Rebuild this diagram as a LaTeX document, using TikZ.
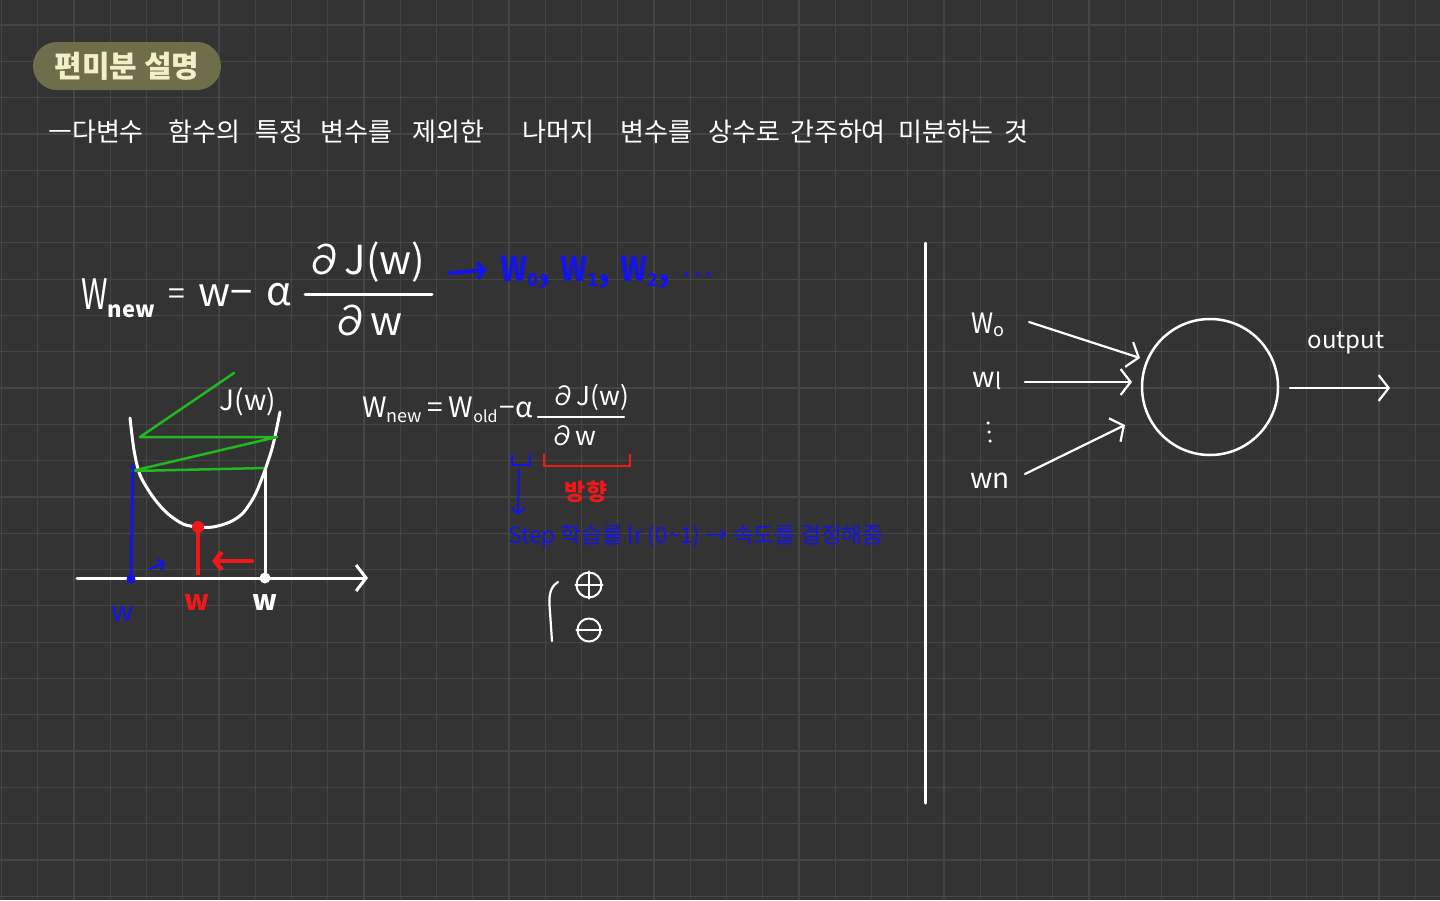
\documentclass[tikz,border=0pt]{standalone}
\usepackage{fontspec}
\setmainfont{Noto Sans CJK KR}
\usetikzlibrary{arrows.meta}
\definecolor{bg}{HTML}{333333}
\definecolor{gridc}{HTML}{454545}
\definecolor{pill}{HTML}{6E6E4A}
\definecolor{cream}{HTML}{F3F0C8}
\definecolor{penblue}{HTML}{1414E8}
\definecolor{penred}{HTML}{F01818}
\definecolor{pengreen}{HTML}{22B822}
\newcommand{\fsz}[1]{\fontsize{#1}{#1}\selectfont}
\newcommand{\nW}[1][0.72]{\scalebox{#1}[1]{W}}
\tikzset{
  wline/.style={draw=white, line width=3pt, line cap=round, line join=round},
  thin/.style={draw=white, line width=2.2pt, line cap=round, line join=round},
  barb/.style={-{Straight Barb[length=10pt,width=26pt]}},
  wtxt/.style={text=white, inner sep=0pt},
  kword/.style={text=white, inner sep=0pt, anchor=west, font=\fsz{26}},
  dot/.style={circle, inner sep=0pt},
}
\begin{document}
\begin{tikzpicture}[x=1pt,y=-1pt]
\fill[bg] (0,0) rectangle (1440,900);
\useasboundingbox (0,0) rectangle (1440,900);
% grid
\foreach \i in {0,...,39} \draw[gridc, line width=1.2pt] ({1.5+36.25*\i},0) -- ++(0,900);
\foreach \j in {0,...,24} \draw[gridc, line width=1.2pt] (0,{25+36.3*\j}) -- ++(1440,0);

% title
\node[fill=pill, rounded corners=24pt, minimum width=188pt, minimum height=48pt, inner sep=0pt,
      text=cream, font=\fsz{30}\bfseries] (title) at (127,66) {편미분 설명};

% definition line
\foreach \x/\w [count=\k] in {48/ㅡ다변수, 168/함수의, 255/특정, 320/변수를, 412/제외한, 522/나머지,
   620/변수를, 708/상수로, 790/간주하여, 898/미분하는, 1004/것}
   \node[kword] (word\k) at (\x,132) {\w};

% big formula
\node[wtxt, anchor=west, font=\fsz{42}] (wnew) at (81,298) {\nW\raisebox{-8pt}{\fsz{22}\bfseries new}};
\node[wtxt, font=\fsz{30}] (eq1) at (177,297) {=};
\node[wtxt, font=\fsz{40}] (wminus) at (226,296) {w−};
\node[wtxt, font=\fsz{40}] (alpha1) at (279,295) {α};
\node[wtxt, font=\fsz{40}] (num1) at (365,262) {∂J(w)};
\node[wtxt, font=\fsz{40}] (den1) at (367,320) {∂w};
\coordinate (frac1a) at (305,294);
\coordinate (frac1b) at (432,294);
\draw[wline] (frac1a) -- (frac1b);

% blue list
\coordinate (ba) at (450,273);
\coordinate (bb) at (487,270);
\draw[draw=penblue, line width=4pt, line cap=round, -{Straight Barb[length=7pt,width=16pt]}] (ba) -- (bb);
\node[inner sep=0pt, anchor=west, text=penblue, font=\fsz{34}\bfseries] (wlist) at (500,273)
   {\nW[0.85]\raisebox{-5pt}{\fsz{18}0},\hspace{10pt}\nW[0.85]\raisebox{-5pt}{\fsz{18}1},\hspace{10pt}\nW[0.85]\raisebox{-5pt}{\fsz{18}2},\hspace{12pt}{\fsz{18}···}};

% parabola graph
\coordinate (ax0) at (77,578);
\coordinate (ax1) at (368,578);
\draw[wline, barb] (ax0) -- (ax1);
\draw[wline, smooth] plot coordinates {(130,418) (134,450) (140,475) (153,497) (167,513) (183,524) (198,527)
   (213,527) (230,522) (243,513) (255,495) (265,470) (273,445) (280,412)};
\coordinate (g1) at (234,373);
\coordinate (g2) at (140,437);
\coordinate (g3) at (277,437);
\coordinate (g4) at (132,471);
\coordinate (g5) at (265,468);
\draw[draw=pengreen, line width=2.5pt, line cap=round, line join=round] (g1) -- (g2) -- (g3) -- (g4) -- (g5);
% blue
\coordinate (bl0) at (133,465);
\node[dot, fill=penblue, minimum size=9pt] (bdot) at (131,579) {};
\draw[draw=penblue, line width=3pt, line cap=round] (bl0) -- (bdot.center);
\coordinate (sa0) at (150,569);
\coordinate (sa1) at (165,562);
\draw[draw=penblue, line width=2.5pt, line cap=round, -{Straight Barb[length=5pt,width=12pt]}] (sa0) -- (sa1);
\node[inner sep=0pt, text=penblue, font=\fsz{28}] (wb) at (123,614) {w};
% red
\node[dot, fill=penred, minimum size=12pt] (rdot) at (198,527) {};
\coordinate (rb) at (198,575);
\draw[draw=penred, line width=4.5pt] (rdot.center) -- (rb);
\coordinate (ra0) at (252,561);
\coordinate (ra1) at (212,561);
\draw[draw=penred, line width=4.5pt, line cap=round, -{Straight Barb[length=7pt,width=18pt]}] (ra0) -- (ra1);
\node[inner sep=0pt, text=penred, font=\fsz{28}\bfseries] (wr) at (197,603) {w};
% white
\coordinate (wt) at (265,468);
\node[dot, fill=white, minimum size=11pt] (wdot) at (265,578) {};
\draw[wline] (wt) -- (wdot.center);
\node[wtxt, font=\fsz{28}\bfseries] (ww) at (265,603) {w};
\node[wtxt, font=\fsz{28}] (jw) at (248,402) {J(w)};

% middle formula
\node[wtxt, anchor=west, font=\fsz{28}] (f2) at (362,410)
   {W\raisebox{-5pt}{\fsz{18}new}\hspace{5pt}=\hspace{6pt}W\raisebox{-5pt}{\fsz{16}old}\hspace{2pt}−α};
\node[wtxt, font=\fsz{26}] (num2) at (590,397) {∂J(w)};
\node[wtxt, font=\fsz{26}] (den2) at (573,436) {∂w};
\coordinate (frac2a) at (538,417);
\coordinate (frac2b) at (624,417);
\draw[thin] (frac2a) -- (frac2b);
% brackets
\draw[draw=penblue, line width=2pt] (512,454) -- (512,465) -- (530,465) -- (530,454);
\draw[draw=penred, line width=2pt] (544,454) -- (544,466) -- (630,466) -- (630,454);
\coordinate (da0) at (519,470);
\coordinate (da1) at (518,515);
\draw[draw=penblue, line width=2pt, line cap=round, -{Straight Barb[length=6pt,width=14pt]}] (da0) -- (da1);
\node[inner sep=0pt, text=penred, font=\fsz{23}\bfseries] (dir) at (586,492) {방향};
\node[inner sep=0pt, anchor=west, text=penblue, font=\fsz{22.5}] (stepline) at (508,537)
   {Step 학습률 lr (0\textasciitilde 1) → 속도를 결정해줌};
% brace and signs
\draw[thin] (558,582) .. controls (548,588) and (549,600) .. (550,612) -- (552,641);
\node[draw=white, line width=2pt, circle, minimum size=25pt, inner sep=0pt] (plus) at (589,585) {};
\draw[thin] (plus.north) -- (plus.south) (plus.west) -- (plus.east);
\node[draw=white, line width=2pt, circle, minimum size=23pt, inner sep=0pt] (minus) at (589,630) {};
\draw[thin] (minus.west) -- (minus.east);

% divider
\coordinate (dv0) at (925,243);
\coordinate (dv1) at (925,803);
\draw[wline] (dv0) -- (dv1);

% neuron
\node[draw=white, line width=2.5pt, circle, minimum size=136pt, inner sep=0pt] (neuron) at (1210,387) {};
\node[wtxt, font=\fsz{28}] (x0) at (988,325) {\nW[0.9]\raisebox{-3pt}{\fsz{18}o}};
\node[wtxt, font=\fsz{28}] (x1) at (987,381) {w\raisebox{-2pt}{\fsz{22}l}};
\node[dot, fill=white, minimum size=3.5pt] (xd1) at (988,423) {};
\node[dot, fill=white, minimum size=3.5pt] (xd2) at (989,432) {};
\node[dot, fill=white, minimum size=3.5pt] (xd3) at (990,441) {};
\node[wtxt, font=\fsz{28}] (xn) at (990,481) {wn};
\coordinate (a0s) at (1029,322);
\coordinate (a0e) at (1140,358);
\coordinate (a1s) at (1025,382);
\coordinate (a1e) at (1132,382);
\coordinate (a2s) at (1025,474);
\coordinate (a2e) at (1125,425);
\coordinate (aos) at (1290,388);
\coordinate (aoe) at (1390,388);
\draw[thin, barb] (a0s) -- (a0e);
\draw[thin, barb] (a1s) -- (a1e);
\draw[thin, barb] (a2s) -- (a2e);
\draw[thin, barb] (aos) -- (aoe);
\node[wtxt, font=\fsz{24}] (out) at (1346,343) {output};
\end{tikzpicture}
\end{document}
